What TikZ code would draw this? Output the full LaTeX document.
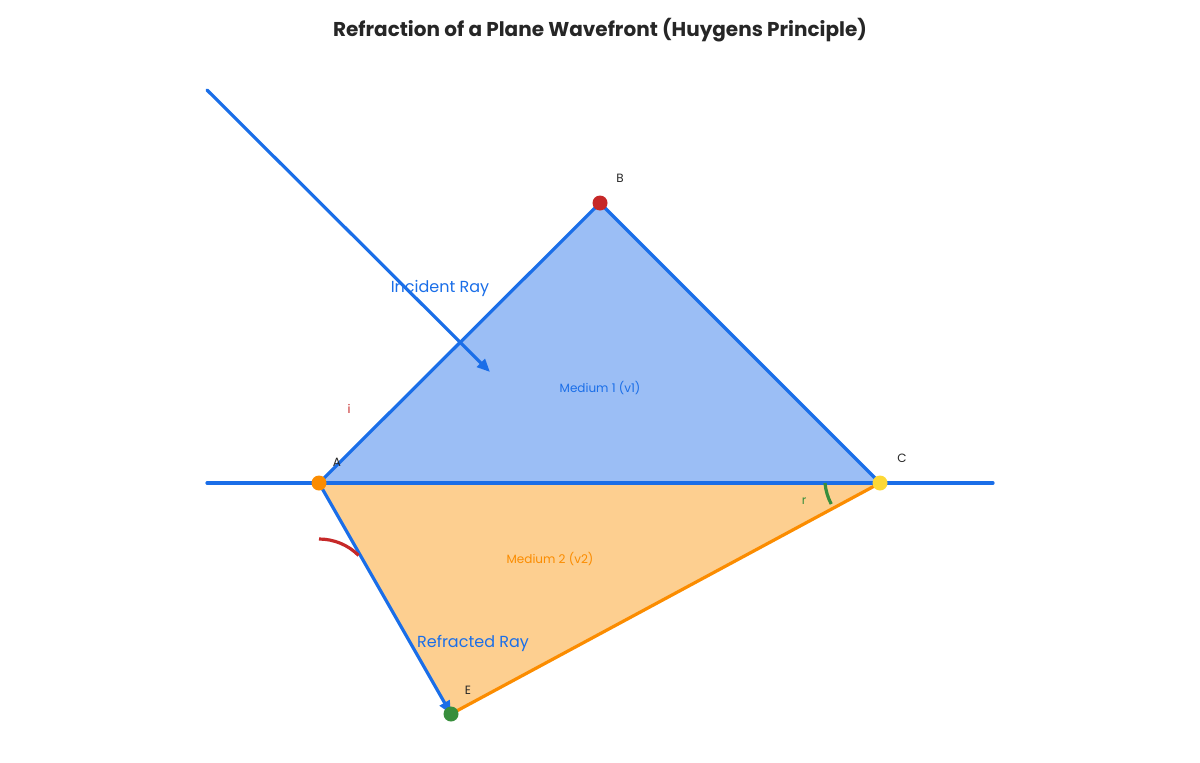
\documentclass[tikz,border=0pt]{standalone}
\usepackage{fontspec}
\setmainfont{Poppins}
\usetikzlibrary{arrows.meta}
\definecolor{bl}{HTML}{1A6EE8}
\definecolor{blf}{HTML}{9BBEF5}
\definecolor{orf}{HTML}{FDCF90}
\definecolor{orl}{HTML}{FB8C00}
\definecolor{rd}{HTML}{C62828}
\definecolor{gr}{HTML}{388E3C}
\definecolor{yl}{HTML}{FDD835}
\tikzset{ray/.style={bl,line width=3.2pt,line cap=round},
 arr/.style={ray,-{Triangle[length=13pt,width=11pt]}},
 dot/.style={circle,inner sep=0pt,minimum size=15pt},
 lab/.style={font=\fontsize{12}{14}\selectfont,text=black!85}}
\begin{document}
\begin{tikzpicture}[x=1pt,y=-1pt]
\useasboundingbox (0,0) rectangle (1200,763);
\coordinate (A) at (319,483); \coordinate (B) at (600,203);
\coordinate (C) at (880,483); \coordinate (E) at (451,714);
\coordinate (L) at (207,483); \coordinate (R) at (993,483);
\coordinate (S) at (207,90); \coordinate (T) at (490,372);
\fill[blf] (A)--(B)--(C)--cycle;
\fill[orf] (A)--(C)--(E)--cycle;
\draw[ray] (A)--(B)--(C);
\draw[orl,line width=3.2pt] (C)--(E);
\draw[ray] (L)--(R);
\draw[arr] (S)--(T);
\draw[arr] (A)--(E);
\draw[rd,line width=3.2pt] ([shift={(90:56)}]A) arc[start angle=-90,end angle=-45,radius=56];
\draw[gr,line width=3.2pt] ([shift={(180:55)}]C) arc[start angle=175,end angle=152,radius=55];
\node[dot,fill=rd] (nB) at (B) {};
\node[dot,fill=orl] (nA) at (A) {};
\node[dot,fill=yl] (nC) at (C) {};
\node[dot,fill=gr] (nE) at (E) {};
\node[lab] at (620,178) {B};
\node[lab] at (902,458) {C};
\node[lab] at (337,462) {A};
\node[lab] at (468,690) {E};
\node[font=\fontsize{12}{14}\selectfont,text=rd] at (349,409) {i};
\node[font=\fontsize{12}{14}\selectfont,text=gr] at (804,501) {r};
\node[font=\fontsize{16}{18}\selectfont,text=bl] at (440,288) {Incident Ray};
\node[font=\fontsize{16}{18}\selectfont,text=bl] at (473,643) {Refracted Ray};
\node[font=\fontsize{12}{14}\selectfont,text=bl] at (600,388) {Medium 1 (v1)};
\node[font=\fontsize{12}{14}\selectfont,text=orl] at (550,559) {Medium 2 (v2)};
\node[font=\fontsize{20}{24}\bfseries,text=black!85] at (600,30) {Refraction of a Plane Wavefront (Huygens Principle)};
\end{tikzpicture}
\end{document}
